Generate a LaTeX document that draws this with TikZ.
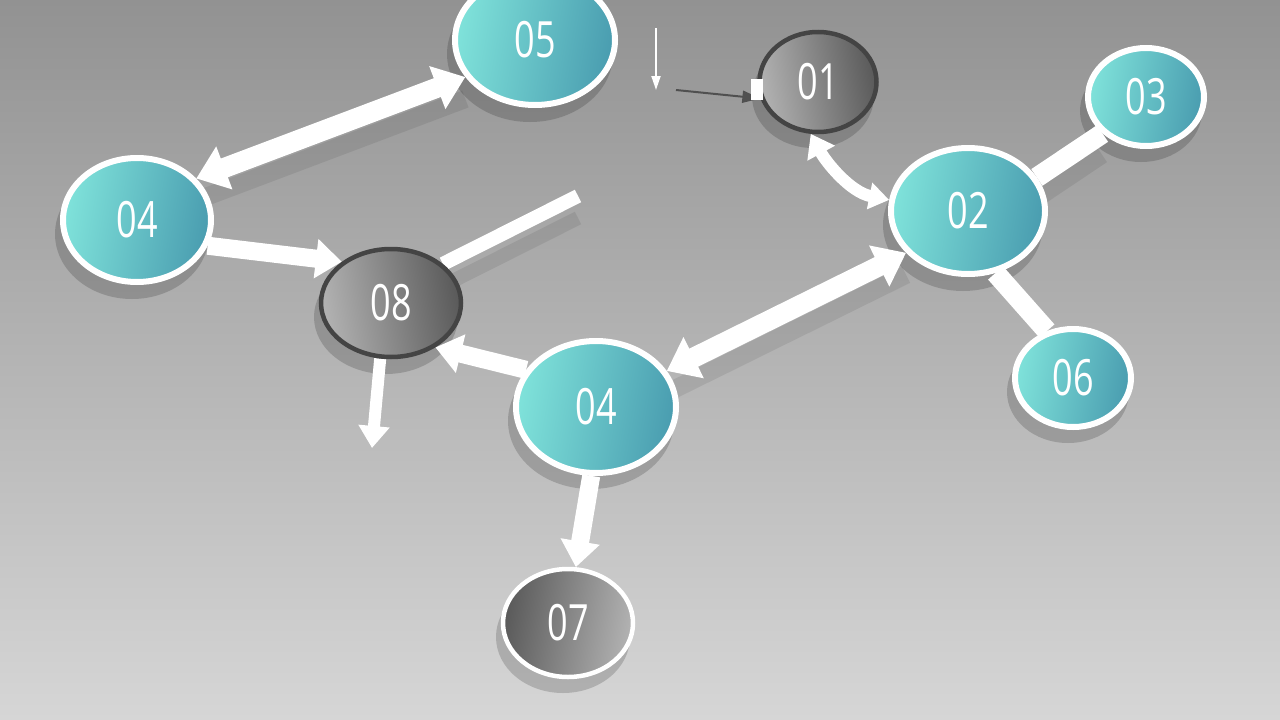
\documentclass[tikz,border=0pt]{standalone}
\usepackage{fontspec}
\setmainfont{Open Sans}[FakeStretch=0.72]
\usetikzlibrary{shapes.geometric,arrows.meta}
\definecolor{bgtop}{HTML}{929292}
\definecolor{bgbot}{HTML}{D6D6D6}
\definecolor{tealL}{HTML}{7FE2DA}
\definecolor{tealD}{HTML}{4A9DB0}
\definecolor{grayL}{HTML}{B2B2B2}
\definecolor{grayD}{HTML}{5A5A5A}
\definecolor{rimD}{HTML}{444444}
\definecolor{darkarrow}{HTML}{505050}
\pgfdeclarelayer{bglayer}
\pgfdeclarelayer{shadowlayer}
\pgfdeclarelayer{connlayer}
\pgfsetlayers{bglayer,shadowlayer,connlayer,main}
\tikzset{
  base/.style={ellipse, inner sep=0pt, text=white, font=\fontsize{50}{54}\selectfont},
  sz/.style 2 args={minimum width=#1pt, minimum height=#2pt},
  tealnode/.style={base, draw=white, line width=6pt, left color=tealL, right color=tealD, shading angle=80},
  graynode/.style={base, draw=rimD, line width=4.5pt, left color=grayL, right color=grayD, shading angle=100},
  graywhite/.style={base, draw=white, line width=4.5pt, left color=grayD, right color=grayL, shading angle=80},
  nshadow/.style={fill=black, opacity=0.17},
  conn/.style={draw=white, line width=#1pt},
  ashadow/.style={draw=black, opacity=0.08, line width=#1pt},
  bigtip/.style={-{Triangle[width=44pt,length=30pt]}},
  bigtips/.style={{Triangle[width=44pt,length=30pt]}-{Triangle[width=44pt,length=30pt]}},
  midtip/.style={-{Triangle[width=38pt,length=26pt]}},
  smalltip/.style={-{Triangle[width=30pt,length=22pt]}},
  curvetips/.style={{Triangle[width=26pt,length=20pt]}-{Triangle[width=30pt,length=22pt]}},
}
\begin{document}
\begin{tikzpicture}[x=1pt,y=-1pt]
\begin{pgfonlayer}{bglayer}
  \shade[top color=bgtop, bottom color=bgbot] (0,0) rectangle (1280,720);
\end{pgfonlayer}
\useasboundingbox (0,0) rectangle (1280,720);

% nodes
\node[tealnode, sz={160}{130}] (n05) at (535,40) {05};
\node[graynode, sz={117}{100}] (n01) at (818,82) {01};
\node[tealnode, sz={116}{98}] (n03) at (1146,97) {03};
\node[tealnode, sz={154}{126}] (n02) at (968,211) {02};
\node[tealnode, sz={116}{98}] (n06) at (1073,378) {06};
\node[tealnode, sz={148}{124}] (n04a) at (137,220) {04};
\node[graynode, sz={140}{108}] (n08) at (391,303) {08};
\node[tealnode, sz={160}{132}] (n04b) at (596,407) {04};
\node[graywhite, sz={130}{108}] (n07) at (568,623) {07};

% node shadows
\begin{pgfonlayer}{shadowlayer}
  \foreach \n/\rx/\ry in {n05/83/68, n01/61/52, n03/61/51, n02/80/66, n06/61/51, n04a/77/65, n08/72/57, n04b/83/68, n07/67/56}{
    \fill[nshadow] ([xshift=-5pt,yshift=-14pt]\n.center) ellipse [x radius=\rx, y radius=\ry];
  }
\end{pgfonlayer}

\coordinate (e8up) at (578,196);
\coordinate (e8dn) at (372,448);
\coordinate (sa1) at (656,28);
\coordinate (sa2) at (656,90);
\coordinate (da1) at (676,90);

\begin{pgfonlayer}{connlayer}
  % arrow shadows
  \begin{scope}[transform canvas={yshift=-22pt}]
    \draw[ashadow=18] (n04a.35) -- (n05.208);
    \draw[ashadow=18] (n04b.27) -- (n02.214);
    \draw[ashadow=14] (n08.37) -- (e8up);
    \draw[ashadow=16] (n02.26) -- (n03.220);
  \end{scope}
  % connectors
  \draw[conn=20, bigtips] (n04a.35) -- (n05.208);
  \draw[conn=18, midtip] (n04a.-20) -- (n08.140);
  \draw[conn=14] (n08.37) -- (e8up);
  \draw[conn=18, midtip] (n04b.152) -- (n08.-45);
  \draw[conn=12, smalltip] (n08.259) -- (e8dn);
  \draw[conn=20, bigtips] (n04b.27) -- (n02.214);
  \draw[conn=18, midtip] (n04b.266) -- (n07.82);
  \draw[conn=12, curvetips] (n02.172) .. controls (850,192) and (826,162) .. (n01.262);
  \draw[conn=20] (n02.26) -- (n03.220);
  \draw[conn=20] (n02.294) -- (n06.119);
  \draw[draw=white, line width=2pt, -{Triangle[width=9pt,length=14pt]}] (sa1) -- (sa2);
  \draw[draw=darkarrow, line width=2pt, -{Triangle[width=12pt,length=18pt]}] (da1) -- (n01.196);
\end{pgfonlayer}
\fill[white] (751,79) rectangle (763,100);
\end{tikzpicture}
\end{document}
